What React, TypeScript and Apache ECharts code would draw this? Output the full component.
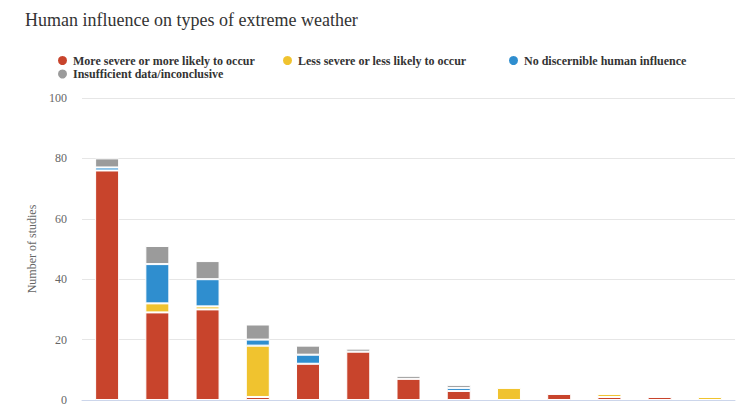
import { useEffect, useRef } from 'react';
import * as echarts from 'echarts';

const categories = ['1', '2', '3', '4', '5', '6', '7', '8', '9', '10', '11', '12', '13'];

// null = nothing in that segment
const moreSevere = [76, 29, 30, 1, 12, 16, 7, 3, null, 2, 1, 1, null];
const lessSevere = [null, 3, 1, 17, null, null, null, null, 4, null, 1, null, 1];
const noInfluence = [1, 13, 9, 2, 3, null, null, 1, null, null, null, null, null];
const insufficient = [3, 6, 6, 5, 3, 1, 1, 1, null, null, null, null, null];

const seriesNames = [
  'More severe or more likely to occur',
  'Less severe or less likely to occur',
  'No discernible human influence',
  'Insufficient data/inconclusive',
];
const colors = ['#c8442c', '#f0c32f', '#2f8ecf', '#9b9b9b'];

const FONT = 'Liberation Serif';

export default function App() {
  const chartRef = useRef<HTMLDivElement>(null);

  useEffect(() => {
    document.body.style.margin = '0';
    if (!chartRef.current) return;
    const chart = echarts.init(chartRef.current, null, { renderer: 'svg' });

    // one legend per item so each sits where the original has it
    const legendPos = [
      { left: 56, top: 54 },
      { left: 281, top: 54 },
      { left: 507, top: 54 },
      { left: 56, top: 67.5 },
    ];

    const values = [moreSevere, lessSevere, noInfluence, insufficient];

    chart.setOption({
      animation: false,
      textStyle: { fontFamily: FONT },
      title: {
        text: 'Human influence on types of extreme weather',
        left: 25,
        top: 11,
        padding: 0,
        textStyle: {
          fontFamily: FONT,
          fontSize: 18,
          fontWeight: 'normal',
          color: '#333333',
        },
      },
      legend: legendPos.map((p, i) => ({
        left: p.left,
        top: p.top,
        padding: 0,
        icon: 'circle',
        itemWidth: 11,
        itemHeight: 11,
        selectedMode: false,
        data: [seriesNames[i]],
        textStyle: {
          fontFamily: FONT,
          fontSize: 12,
          fontWeight: 'bold',
          color: '#333333',
        },
      })),
      grid: {
        left: 82,
        right: 14,
        top: 98,
        bottom: 14,
      },
      xAxis: {
        type: 'category',
        data: categories,
        axisLine: { lineStyle: { color: '#ccd6eb' } },
        axisTick: { length: 10, lineStyle: { color: '#ccd6eb' } },
        axisLabel: { show: false },
      },
      yAxis: {
        type: 'value',
        min: 0,
        max: 100,
        interval: 20,
        name: 'Number of studies',
        nameLocation: 'middle',
        nameGap: 42,
        nameTextStyle: {
          fontFamily: FONT,
          fontSize: 12,
          color: '#666666',
        },
        axisLabel: {
          fontFamily: FONT,
          fontSize: 12,
          color: '#666666',
          margin: 15,
        },
        splitLine: { lineStyle: { color: '#e6e6e6' } },
      },
      series: values.map((data, i) => ({
        name: seriesNames[i],
        type: 'bar',
        stack: 'total',
        barWidth: 24,
        data,
        itemStyle: {
          color: colors[i],
          borderColor: '#ffffff',
          borderWidth: 1,
        },
      })),
    });

    return () => {
      chart.dispose();
    };
  }, []);

  return <div ref={chartRef} style={{ width: 749, height: 414 }} />;
}
